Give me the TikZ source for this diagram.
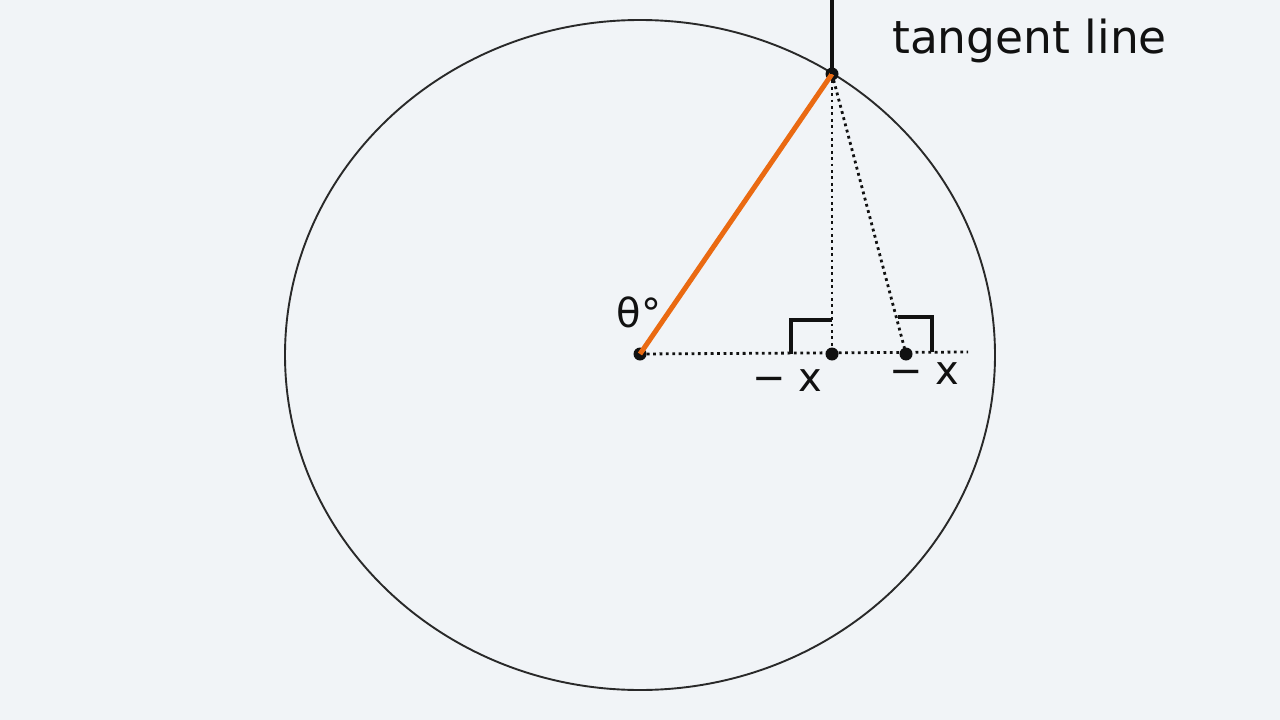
\documentclass[tikz,border=0pt]{standalone}
\usepackage{fontspec}
\setmainfont{DejaVu Sans}
\definecolor{bg}{HTML}{F1F4F7}
\definecolor{orng}{HTML}{EA6A12}
\definecolor{ink}{HTML}{111111}
\begin{document}
\begin{tikzpicture}[x=1pt,y=-1pt,
  dotline/.style={ink,line width=2.8pt,dash pattern=on 2.8pt off 3.6pt},
  ptdot/.style={circle,fill=ink,inner sep=0pt,minimum size=13pt},
  lbl/.style={font=\fontsize{40}{44}\selectfont,text=ink,inner sep=0pt},
  rbox/.style={ink,line width=3.4pt}]
\fill[bg] (0,0) rectangle (1280,720);
\useasboundingbox (0,0) rectangle (1280,720);
\draw[ink!90,line width=1.9pt] (640,355) ellipse [x radius=355, y radius=335];
\coordinate (top) at (832,0);
\node[ptdot] (O) at (640,354) {};
\node[ptdot] (P) at (832,74) {};
\node[ptdot] (F) at (832,354) {};
\node[ptdot] (G) at (906,354) {};
\coordinate (E) at (968,352);
\draw[dotline] (O) -- (E);
\draw[dotline] (P.center) -- (F.center);
\draw[dotline] (P.center) -- (G.center);
\draw[orng,line width=5pt] (O.center) -- (P.center);
\draw[ink,line width=3.4pt] (top) -- (P.center);
\draw[rbox] (791,354) -- (791,320) -- (832,320);
\draw[rbox] (898,317) -- (932,317) -- (932,352);
\node[lbl,font=\fontsize{45.5}{50}\selectfont,anchor=west] (tl) at (892,41) {tangent line};
\node[lbl,anchor=center] (th) at (639,312) {θ°};
\node[lbl,anchor=center] (x1) at (787,381) {− x};
\node[lbl,anchor=center] (x2) at (924,374) {− x};
\end{tikzpicture}
\end{document}
